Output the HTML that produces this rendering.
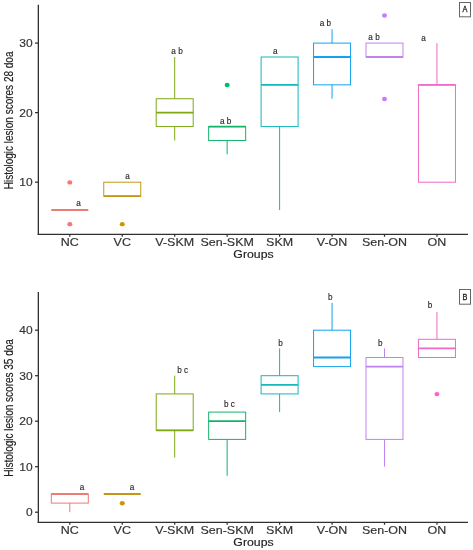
<!DOCTYPE html>
<html><head><meta charset="utf-8"><title>Histologic lesion scores</title>
<style>html,body{margin:0;padding:0;background:#fff;}svg{display:block;}</style>
</head><body>
<svg width="473" height="550" viewBox="0 0 473 550" font-family='"Liberation Sans", Arial, sans-serif'>
<rect width="473" height="550" fill="#fff"/>
<g stroke="#EA7C74" fill="none" stroke-width="1.0">
<line x1="51.30" x2="88.30" y1="210.02" y2="210.02" stroke-width="1.8"/>
</g>
<ellipse cx="69.80" cy="182.40" rx="2.5" ry="2.2" fill="#F8766D"/>
<ellipse cx="69.80" cy="224.13" rx="2.5" ry="2.2" fill="#F8766D"/>
<text transform="translate(78.60,206.10) scale(0.91,1)" font-size="9" text-anchor="middle" fill="#222" color="#222" stroke="currentColor" stroke-width="0.12">a</text>
<g stroke="#C59616" fill="none" stroke-width="1.0">
<rect x="103.75" y="182.20" width="37.00" height="13.91"/>
<line x1="103.75" x2="140.75" y1="196.11" y2="196.11" stroke-width="1.8"/>
</g>
<ellipse cx="122.25" cy="224.13" rx="2.5" ry="2.2" fill="#CD9600"/>
<text transform="translate(127.60,179.40) scale(0.91,1)" font-size="9" text-anchor="middle" fill="#222" color="#222" stroke="currentColor" stroke-width="0.12">a</text>
<g stroke="#7EA915" fill="none" stroke-width="1.0">
<line x1="174.70" x2="174.70" y1="98.74" y2="57.01"/>
<line x1="174.70" x2="174.70" y1="126.56" y2="140.47"/>
<rect x="156.20" y="98.74" width="37.00" height="27.82"/>
<line x1="156.20" x2="193.20" y1="112.65" y2="112.65" stroke-width="1.8"/>
</g>
<text transform="translate(177.00,54.20) scale(0.91,1)" font-size="9" text-anchor="middle" fill="#222" color="#222" stroke="currentColor" stroke-width="0.12">a b</text>
<g stroke="#12B46A" fill="none" stroke-width="1.0">
<line x1="227.15" x2="227.15" y1="140.47" y2="154.38"/>
<rect x="208.65" y="126.56" width="37.00" height="13.91"/>
<line x1="208.65" x2="245.65" y1="126.56" y2="126.56" stroke-width="1.8"/>
</g>
<ellipse cx="227.15" cy="85.03" rx="2.5" ry="2.2" fill="#00BE67"/>
<text transform="translate(225.60,123.50) scale(0.91,1)" font-size="9" text-anchor="middle" fill="#222" color="#222" stroke="currentColor" stroke-width="0.12">a b</text>
<g stroke="#14B7BB" fill="none" stroke-width="1.0">
<line x1="279.60" x2="279.60" y1="126.56" y2="210.02"/>
<rect x="261.10" y="57.01" width="37.00" height="69.55"/>
<line x1="261.10" x2="298.10" y1="84.83" y2="84.83" stroke-width="1.8"/>
</g>
<text transform="translate(275.40,54.00) scale(0.91,1)" font-size="9" text-anchor="middle" fill="#222" color="#222" stroke="currentColor" stroke-width="0.12">a</text>
<g stroke="#13A3EC" fill="none" stroke-width="1.0">
<line x1="332.05" x2="332.05" y1="43.10" y2="29.19"/>
<line x1="332.05" x2="332.05" y1="84.83" y2="98.74"/>
<rect x="313.55" y="43.10" width="37.00" height="41.73"/>
<line x1="313.55" x2="350.55" y1="57.01" y2="57.01" stroke-width="1.8"/>
</g>
<text transform="translate(325.40,25.80) scale(0.91,1)" font-size="9" text-anchor="middle" fill="#222" color="#222" stroke="currentColor" stroke-width="0.12">a b</text>
<g stroke="#C182F1" fill="none" stroke-width="1.0">
<rect x="366.00" y="43.10" width="37.00" height="13.91"/>
<line x1="366.00" x2="403.00" y1="57.01" y2="57.01" stroke-width="1.8"/>
</g>
<ellipse cx="384.50" cy="15.48" rx="2.5" ry="2.2" fill="#C77CFF"/>
<ellipse cx="384.50" cy="98.94" rx="2.5" ry="2.2" fill="#C77CFF"/>
<text transform="translate(374.00,40.00) scale(0.91,1)" font-size="9" text-anchor="middle" fill="#222" color="#222" stroke="currentColor" stroke-width="0.12">a b</text>
<g stroke="#F06AC5" fill="none" stroke-width="1.0">
<line x1="436.95" x2="436.95" y1="84.83" y2="43.10"/>
<rect x="418.45" y="84.83" width="37.00" height="97.37"/>
<line x1="418.45" x2="455.45" y1="84.83" y2="84.83" stroke-width="1.8"/>
</g>
<text transform="translate(423.60,41.00) scale(0.91,1)" font-size="9" text-anchor="middle" fill="#222" color="#222" stroke="currentColor" stroke-width="0.12">a</text>
<line x1="38.35" x2="38.35" y1="4.8" y2="234.9" stroke="#303030" stroke-width="1.3"/>
<line x1="37.7" x2="468" y1="234.3" y2="234.3" stroke="#303030" stroke-width="1.25"/>
<line x1="35" x2="38" y1="182.20" y2="182.20" stroke="#303030" stroke-width="1.25"/>
<text transform="translate(32.60,186.30) scale(1.2,1)" font-size="10" text-anchor="end" fill="#333" color="#333" stroke="currentColor" stroke-width="0.15">10</text>
<line x1="35" x2="38" y1="112.65" y2="112.65" stroke="#303030" stroke-width="1.25"/>
<text transform="translate(32.60,116.75) scale(1.2,1)" font-size="10" text-anchor="end" fill="#333" color="#333" stroke="currentColor" stroke-width="0.15">20</text>
<line x1="35" x2="38" y1="43.10" y2="43.10" stroke="#303030" stroke-width="1.25"/>
<text transform="translate(32.60,47.20) scale(1.2,1)" font-size="10" text-anchor="end" fill="#333" color="#333" stroke="currentColor" stroke-width="0.15">30</text>
<line x1="69.80" x2="69.80" y1="234" y2="236.8" stroke="#303030" stroke-width="1.25"/>
<text transform="translate(69.80,246.40) scale(1.25,1)" font-size="10" text-anchor="middle" fill="#333" color="#333" stroke="currentColor" stroke-width="0.15">NC</text>
<line x1="122.25" x2="122.25" y1="234" y2="236.8" stroke="#303030" stroke-width="1.25"/>
<text transform="translate(122.25,246.40) scale(1.25,1)" font-size="10" text-anchor="middle" fill="#333" color="#333" stroke="currentColor" stroke-width="0.15">VC</text>
<line x1="174.70" x2="174.70" y1="234" y2="236.8" stroke="#303030" stroke-width="1.25"/>
<text transform="translate(174.70,246.40) scale(1.25,1)" font-size="10" text-anchor="middle" fill="#333" color="#333" stroke="currentColor" stroke-width="0.15">V-SKM</text>
<line x1="227.15" x2="227.15" y1="234" y2="236.8" stroke="#303030" stroke-width="1.25"/>
<text transform="translate(227.15,246.40) scale(1.25,1)" font-size="10" text-anchor="middle" fill="#333" color="#333" stroke="currentColor" stroke-width="0.15">Sen-SKM</text>
<line x1="279.60" x2="279.60" y1="234" y2="236.8" stroke="#303030" stroke-width="1.25"/>
<text transform="translate(279.60,246.40) scale(1.25,1)" font-size="10" text-anchor="middle" fill="#333" color="#333" stroke="currentColor" stroke-width="0.15">SKM</text>
<line x1="332.05" x2="332.05" y1="234" y2="236.8" stroke="#303030" stroke-width="1.25"/>
<text transform="translate(332.05,246.40) scale(1.25,1)" font-size="10" text-anchor="middle" fill="#333" color="#333" stroke="currentColor" stroke-width="0.15">V-ON</text>
<line x1="384.50" x2="384.50" y1="234" y2="236.8" stroke="#303030" stroke-width="1.25"/>
<text transform="translate(384.50,246.40) scale(1.25,1)" font-size="10" text-anchor="middle" fill="#333" color="#333" stroke="currentColor" stroke-width="0.15">Sen-ON</text>
<line x1="436.95" x2="436.95" y1="234" y2="236.8" stroke="#303030" stroke-width="1.25"/>
<text transform="translate(436.95,246.40) scale(1.25,1)" font-size="10" text-anchor="middle" fill="#333" color="#333" stroke="currentColor" stroke-width="0.15">ON</text>
<text transform="translate(253.50,258.00) scale(1.23,1)" font-size="10" text-anchor="middle" fill="#222" color="#222" stroke="currentColor" stroke-width="0.15">Groups</text>
<text transform="translate(13.30,120.40) rotate(-90) scale(1,1.2)" font-size="10" text-anchor="middle" fill="#222" color="#222" stroke="currentColor" stroke-width="0.15">Histologic lesion scores 28 doa</text>
<rect x="459.5" y="2.5" width="11.0" height="14.3" fill="none" stroke="#666" stroke-width="1"/>
<text transform="translate(465.00,12.20) scale(0.85,1)" font-size="8.6" text-anchor="middle" fill="#1a1a1a" stroke="#1a1a1a" stroke-width="0.3">A</text>
<g stroke="#EA7C74" fill="none" stroke-width="1.0">
<line x1="69.80" x2="69.80" y1="503.10" y2="512.20"/>
<rect x="51.30" y="494.00" width="37.00" height="9.10"/>
<line x1="51.30" x2="88.30" y1="494.00" y2="494.00" stroke-width="1.8"/>
</g>
<text transform="translate(82.00,490.10) scale(0.91,1)" font-size="9" text-anchor="middle" fill="#222" color="#222" stroke="currentColor" stroke-width="0.12">a</text>
<g stroke="#C59616" fill="none" stroke-width="1.0">
<line x1="103.75" x2="140.75" y1="494.00" y2="494.00" stroke-width="1.8"/>
</g>
<ellipse cx="122.25" cy="503.30" rx="2.5" ry="2.2" fill="#CD9600"/>
<text transform="translate(132.10,489.80) scale(0.91,1)" font-size="9" text-anchor="middle" fill="#222" color="#222" stroke="currentColor" stroke-width="0.12">a</text>
<g stroke="#7EA915" fill="none" stroke-width="1.0">
<line x1="174.70" x2="174.70" y1="393.90" y2="375.70"/>
<line x1="174.70" x2="174.70" y1="430.30" y2="457.60"/>
<rect x="156.20" y="393.90" width="37.00" height="36.40"/>
<line x1="156.20" x2="193.20" y1="430.30" y2="430.30" stroke-width="1.8"/>
</g>
<text transform="translate(182.60,372.70) scale(0.91,1)" font-size="9" text-anchor="middle" fill="#222" color="#222" stroke="currentColor" stroke-width="0.12">b c</text>
<g stroke="#12B46A" fill="none" stroke-width="1.0">
<line x1="227.15" x2="227.15" y1="439.40" y2="475.80"/>
<rect x="208.65" y="412.10" width="37.00" height="27.30"/>
<line x1="208.65" x2="245.65" y1="421.20" y2="421.20" stroke-width="1.8"/>
</g>
<text transform="translate(229.50,407.10) scale(0.91,1)" font-size="9" text-anchor="middle" fill="#222" color="#222" stroke="currentColor" stroke-width="0.12">b c</text>
<g stroke="#14B7BB" fill="none" stroke-width="1.0">
<line x1="279.60" x2="279.60" y1="375.70" y2="348.40"/>
<line x1="279.60" x2="279.60" y1="393.90" y2="412.10"/>
<rect x="261.10" y="375.70" width="37.00" height="18.20"/>
<line x1="261.10" x2="298.10" y1="384.80" y2="384.80" stroke-width="1.8"/>
</g>
<text transform="translate(280.60,346.30) scale(0.91,1)" font-size="9" text-anchor="middle" fill="#222" color="#222" stroke="currentColor" stroke-width="0.12">b</text>
<g stroke="#13A3EC" fill="none" stroke-width="1.0">
<line x1="332.05" x2="332.05" y1="330.20" y2="302.90"/>
<rect x="313.55" y="330.20" width="37.00" height="36.40"/>
<line x1="313.55" x2="350.55" y1="357.50" y2="357.50" stroke-width="1.8"/>
</g>
<text transform="translate(330.30,300.40) scale(0.91,1)" font-size="9" text-anchor="middle" fill="#222" color="#222" stroke="currentColor" stroke-width="0.12">b</text>
<g stroke="#C182F1" fill="none" stroke-width="1.0">
<line x1="384.50" x2="384.50" y1="357.50" y2="348.40"/>
<line x1="384.50" x2="384.50" y1="439.40" y2="466.70"/>
<rect x="366.00" y="357.50" width="37.00" height="81.90"/>
<line x1="366.00" x2="403.00" y1="366.60" y2="366.60" stroke-width="1.8"/>
</g>
<text transform="translate(380.30,346.00) scale(0.91,1)" font-size="9" text-anchor="middle" fill="#222" color="#222" stroke="currentColor" stroke-width="0.12">b</text>
<g stroke="#F06AC5" fill="none" stroke-width="1.0">
<line x1="436.95" x2="436.95" y1="339.30" y2="312.00"/>
<rect x="418.45" y="339.30" width="37.00" height="18.20"/>
<line x1="418.45" x2="455.45" y1="348.40" y2="348.40" stroke-width="1.8"/>
</g>
<ellipse cx="436.95" cy="394.10" rx="2.5" ry="2.2" fill="#FF61CC"/>
<text transform="translate(430.00,308.30) scale(0.91,1)" font-size="9" text-anchor="middle" fill="#222" color="#222" stroke="currentColor" stroke-width="0.12">b</text>
<line x1="38.35" x2="38.35" y1="292" y2="522.9" stroke="#303030" stroke-width="1.3"/>
<line x1="37.7" x2="468" y1="522.3" y2="522.3" stroke="#303030" stroke-width="1.25"/>
<line x1="35" x2="38" y1="512.20" y2="512.20" stroke="#303030" stroke-width="1.25"/>
<text transform="translate(32.60,516.30) scale(1.2,1)" font-size="10" text-anchor="end" fill="#333" color="#333" stroke="currentColor" stroke-width="0.15">0</text>
<line x1="35" x2="38" y1="466.70" y2="466.70" stroke="#303030" stroke-width="1.25"/>
<text transform="translate(32.60,470.80) scale(1.2,1)" font-size="10" text-anchor="end" fill="#333" color="#333" stroke="currentColor" stroke-width="0.15">10</text>
<line x1="35" x2="38" y1="421.20" y2="421.20" stroke="#303030" stroke-width="1.25"/>
<text transform="translate(32.60,425.30) scale(1.2,1)" font-size="10" text-anchor="end" fill="#333" color="#333" stroke="currentColor" stroke-width="0.15">20</text>
<line x1="35" x2="38" y1="375.70" y2="375.70" stroke="#303030" stroke-width="1.25"/>
<text transform="translate(32.60,379.80) scale(1.2,1)" font-size="10" text-anchor="end" fill="#333" color="#333" stroke="currentColor" stroke-width="0.15">30</text>
<line x1="35" x2="38" y1="330.20" y2="330.20" stroke="#303030" stroke-width="1.25"/>
<text transform="translate(32.60,334.30) scale(1.2,1)" font-size="10" text-anchor="end" fill="#333" color="#333" stroke="currentColor" stroke-width="0.15">40</text>
<line x1="69.80" x2="69.80" y1="522" y2="524.8" stroke="#303030" stroke-width="1.25"/>
<text transform="translate(69.80,534.40) scale(1.25,1)" font-size="10" text-anchor="middle" fill="#333" color="#333" stroke="currentColor" stroke-width="0.15">NC</text>
<line x1="122.25" x2="122.25" y1="522" y2="524.8" stroke="#303030" stroke-width="1.25"/>
<text transform="translate(122.25,534.40) scale(1.25,1)" font-size="10" text-anchor="middle" fill="#333" color="#333" stroke="currentColor" stroke-width="0.15">VC</text>
<line x1="174.70" x2="174.70" y1="522" y2="524.8" stroke="#303030" stroke-width="1.25"/>
<text transform="translate(174.70,534.40) scale(1.25,1)" font-size="10" text-anchor="middle" fill="#333" color="#333" stroke="currentColor" stroke-width="0.15">V-SKM</text>
<line x1="227.15" x2="227.15" y1="522" y2="524.8" stroke="#303030" stroke-width="1.25"/>
<text transform="translate(227.15,534.40) scale(1.25,1)" font-size="10" text-anchor="middle" fill="#333" color="#333" stroke="currentColor" stroke-width="0.15">Sen-SKM</text>
<line x1="279.60" x2="279.60" y1="522" y2="524.8" stroke="#303030" stroke-width="1.25"/>
<text transform="translate(279.60,534.40) scale(1.25,1)" font-size="10" text-anchor="middle" fill="#333" color="#333" stroke="currentColor" stroke-width="0.15">SKM</text>
<line x1="332.05" x2="332.05" y1="522" y2="524.8" stroke="#303030" stroke-width="1.25"/>
<text transform="translate(332.05,534.40) scale(1.25,1)" font-size="10" text-anchor="middle" fill="#333" color="#333" stroke="currentColor" stroke-width="0.15">V-ON</text>
<line x1="384.50" x2="384.50" y1="522" y2="524.8" stroke="#303030" stroke-width="1.25"/>
<text transform="translate(384.50,534.40) scale(1.25,1)" font-size="10" text-anchor="middle" fill="#333" color="#333" stroke="currentColor" stroke-width="0.15">Sen-ON</text>
<line x1="436.95" x2="436.95" y1="522" y2="524.8" stroke="#303030" stroke-width="1.25"/>
<text transform="translate(436.95,534.40) scale(1.25,1)" font-size="10" text-anchor="middle" fill="#333" color="#333" stroke="currentColor" stroke-width="0.15">ON</text>
<text transform="translate(253.50,546.00) scale(1.23,1)" font-size="10" text-anchor="middle" fill="#222" color="#222" stroke="currentColor" stroke-width="0.15">Groups</text>
<text transform="translate(13.30,408.00) rotate(-90) scale(1,1.2)" font-size="10" text-anchor="middle" fill="#222" color="#222" stroke="currentColor" stroke-width="0.15">Histologic lesion scores 35 doa</text>
<rect x="459.5" y="289.5" width="11.0" height="14.699999999999989" fill="none" stroke="#666" stroke-width="1"/>
<text transform="translate(465.00,299.60) scale(0.85,1)" font-size="8.6" text-anchor="middle" fill="#1a1a1a" stroke="#1a1a1a" stroke-width="0.3">B</text>
</svg>
</body></html>
